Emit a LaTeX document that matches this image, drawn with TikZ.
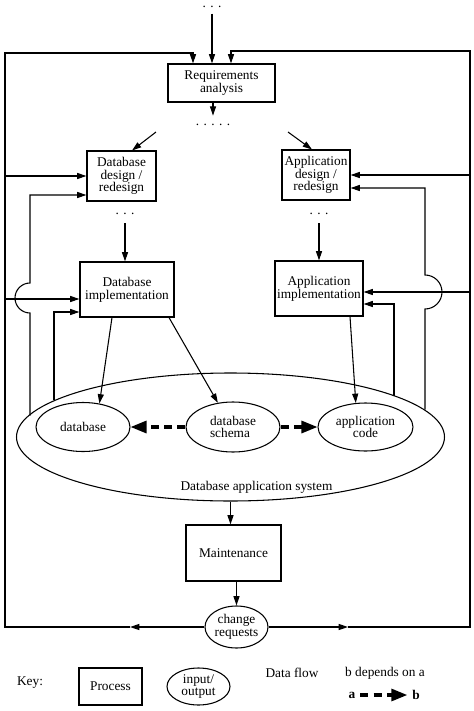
\documentclass[tikz,border=0pt]{standalone}
\usepackage{fontspec}
\setmainfont{Liberation Serif}
\usetikzlibrary{arrows.meta}
\usetikzlibrary{shapes.geometric}
\usetikzlibrary{positioning}

\begin{document}
\begin{tikzpicture}[x=0.75pt, y=-0.75pt, line width=0.8pt,
	font=\fontsize{10}{9.5}\selectfont,
	proc/.style={draw, align=center, inner sep=1pt},
	io/.style={draw, ellipse, align=center, inner sep=0pt},
	dots/.style={inner sep=6pt},
	flow/.style={-{Triangle[length=7pt, width=4.5pt]}},
	dep/.style={line width=2.3pt, dash pattern=on 6pt off 4pt, -{Triangle[length=12pt, width=9pt]}}]
	\path[use as bounding box, fill=white] (0,0) rectangle (474,711);

	\node[dots, inner sep=4pt] (dtop) at (212,7) {. . .};
	\node[proc, minimum width=80.25pt, minimum height=28.5pt] (req) at (221.5,83) {Requirements\\analysis};
	\node[dots] (dmid) at (213,125) {. . . . .};
	\coordinate (fl) at (156,132);
	\coordinate (fr) at (288,132);

	\node[proc, minimum width=51.75pt, minimum height=37.5pt] (dbdes) at (121.5,176) {Database\\design /\\redesign};
	\node[proc, minimum width=51pt, minimum height=37.5pt] (appdes) at (316,175) {Application\\design /\\redesign};
	\node[dots] (d1) at (125,214) {. . .};
	\node[dots] (d2) at (319,214) {. . .};
	\node[proc, minimum width=70.5pt, minimum height=41.25pt] (dbimp) at (127,289.5) {Database\\implementation};
	\node[proc, minimum width=66pt, minimum height=41.25pt] (appimp) at (319,288.5) {Application\\implementation};

	\node[io, minimum width=321pt, minimum height=96pt] (sys) at (230.5,437) {};
	\node[io, minimum width=70.5pt, minimum height=36.75pt] (db) at (83,427) {database};
	\node[io, minimum width=70.5pt, minimum height=37.5pt, align=left] (schema) at (233,427) {database\\schema};
	\node[io, minimum width=71.25pt, minimum height=36pt] (code) at (365.5,427) {application\\code};
	\node (syslbl) at (256.5,487) {Database application system};

	\node[proc, minimum width=71.25pt, minimum height=42pt] (maint) at (233.5,553) {Maintenance};
	\node[io, minimum width=47.25pt, minimum height=31.5pt] (chg) at (236.5,627) {change\\requests};

	% key
	\node (key) at (30,683) {Key:};
	\node[proc, minimum width=47.25pt, minimum height=27.75pt] (kproc) at (110.5,686.5) {Process};
	\node[io, minimum width=47.25pt, minimum height=27.75pt] (kio) at (198.5,686.5) {input/\\output};
	\node (kflow) at (292,673) {Data flow};
	\node (kdep) at (385,673) {b depends on a};
	\node (ka) at (352,695) {\textbf{a}};
	\node (kb) at (416,695) {\textbf{b}};
	\coordinate (kf1) at (268,692);
	\coordinate (kf2) at (318,692);

	% data flow
	\draw[flow] (dtop.south) -- (req.north -| dtop.south);
	\draw[flow] (req.south -| dmid.north) -- (dmid.north);
	\draw[flow] (fl) -- (132,0 |- dbdes.north);
	\draw[flow] (fr) -- (312,0 |- appdes.north);
	\draw[flow] (d1.south) -- (dbimp.north -| d1.south);
	\draw[flow] (d2.south) -- (appimp.north -| d2.south);
	\draw[flow] (112,0 |- dbimp.south) -- (db.55);
	\draw[flow] (169,0 |- dbimp.south) -- (schema.122);
	\draw[flow] (350,0 |- appimp.south) -- (code.112);
	\draw[flow] (sys.south) -- (maint.north -| sys.south);
	\draw[flow] (maint.south -| chg.north) -- (chg.north);

	% change requests back to the top
	\draw[flow] (chg.west) -- (130,0 |- chg.west);
	\draw[flow] (130,0 |- chg.west) -| (5,53) -| (193,0 |- req.north);
	\draw[flow] (chg.east) -- (348,0 |- chg.east);
	\draw[flow] (348,0 |- chg.east) -| (470,51) -| (231,0 |- req.north);
	\draw[flow] (dbdes.west -| 5,0) -- (dbdes.west);
	\draw[flow] (5,299) -- (5,299 -| dbimp.west);
	\draw[flow] (appdes.east -| 470,0) -- (appdes.east);
	\draw[flow] (470,292) -- (470,292 -| appimp.east);

	% system back to design and implementation
	\draw[flow] (30,0 |- sys.174) -- (30,313) arc[start angle=90, end angle=270, radius=15] |- (30,195 -| dbdes.west);
	\draw[flow] (54,0 |- sys.168) |- (54,312 -| dbimp.west);
	\draw[flow] (425,0 |- sys.8) -- (425,309) arc[start angle=90, end angle=-90, radius=17] |- (425,188 -| appdes.east);
	\draw[flow] (394,0 |- sys.14) |- (394,304 -| appimp.east);

	% dependencies
	\foreach \a/\b in {schema.west/db.east, schema.east/code.west}
		\draw[dep] (\a) -- (\b);
	\draw[dep] (ka) -- (kb);
\end{tikzpicture}
\end{document}
